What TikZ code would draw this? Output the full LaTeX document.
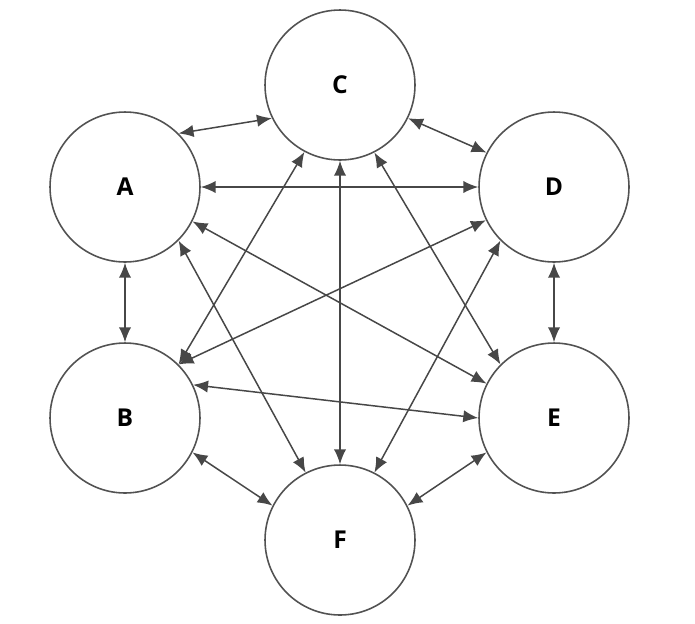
\documentclass[tikz,border=0pt]{standalone}
\usepackage{fontspec}
\setmainfont{Open Sans}
\usetikzlibrary{arrows.meta}
\tikzset{>={Latex[length=8.5pt,width=7pt]}}
\tikzset{
  state/.style={circle, draw=black!68, line width=0.9pt, fill=white,
    minimum size=3cm, inner sep=0pt,
    font=\fontsize{14}{16}\selectfont\bfseries},
  link/.style={<->, draw=black!72, line width=0.85pt}
}

\begin{document}
\begin{tikzpicture}[x=0.02cm, y=-0.02cm]
  \useasboundingbox (0,0) rectangle (695,623);
  % the six nodes
  \node[state] (A) at (125,187) {A};
  \node[state] (C) at (340,85) {C};
  \node[state] (D) at (554,187) {D};
  \node[state] (B) at (125,418) {B};
  \node[state] (E) at (554,418) {E};
  \node[state] (F) at (340,540) {F};
  % every pair is linked both ways
  \foreach \from/\to in {A.45/C.206, A.0/D.180, A.333/E.153, A.315/F.117,
      A.270/B.90, C.334/D.153, C.242/B.45, C.270/F.90, C.297/E.135,
      D.206/B.45, D.225/F.63, D.270/E.90, B.26/E.180, B.333/F.153,
      E.207/F.27}
    \draw[link] (\from) -- (\to);
\end{tikzpicture}
\end{document}
